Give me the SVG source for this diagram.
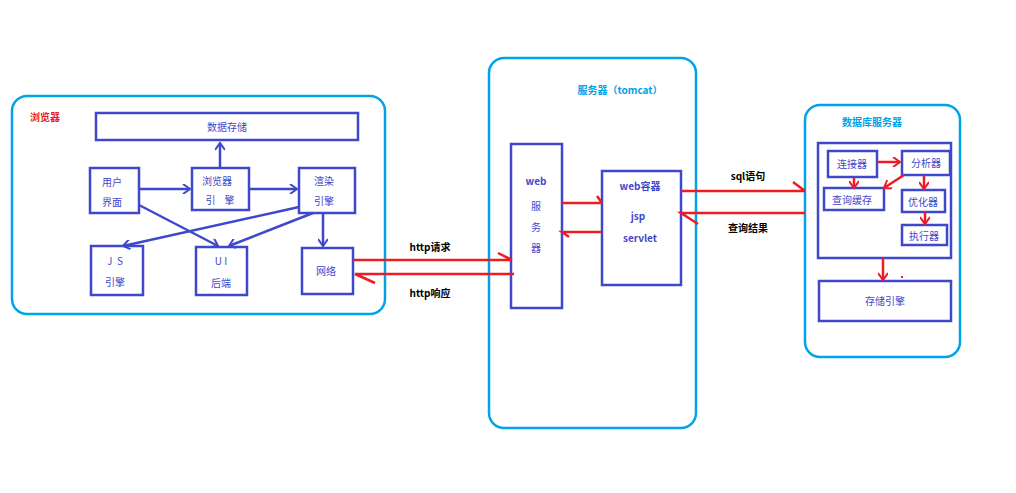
<svg xmlns="http://www.w3.org/2000/svg" width="1016" height="493" viewBox="0 0 1016 493">
<style>
text{font-family:"Noto Sans CJK SC","Liberation Sans",sans-serif;font-size:10px;text-anchor:middle;}
.c{fill:none;stroke:#00a2e8;stroke-width:2.5}
.b{fill:#fff;stroke:#3f48cc;stroke-width:2.5}
.t{fill:#3f48cc}
.bl{stroke:#3f48cc;stroke-width:2.5;fill:none}
.rd{stroke:#ed1c24;stroke-width:2.5;fill:none}
</style>
<defs>
<marker id="ab" markerWidth="10" markerHeight="10" refX="8" refY="5" orient="auto" markerUnits="userSpaceOnUse"><path d="M1,0 L8,5 L1,10" fill="none" stroke="#3f48cc" stroke-width="2"/></marker>
<marker id="ar" markerWidth="10" markerHeight="10" refX="8" refY="5" orient="auto" markerUnits="userSpaceOnUse"><path d="M1,0 L8,5 L1,10" fill="none" stroke="#ed1c24" stroke-width="2"/></marker>
</defs>
<rect width="1016" height="493" fill="#fff"/>
<g id="browser"><rect class="c" x="12" y="96" width="373" height="218" rx="15"/><text x="45" y="121" fill="#ed1c24" font-weight="bold">浏览器</text></g>
<g id="storage"><rect class="b" x="96" y="113" width="262" height="27"/><text class="t" x="227" y="131">数据存储</text></g>
<g id="ui"><rect class="b" x="90" y="168" width="49" height="45"/><text class="t" x="112" y="186">用户</text><text class="t" x="112" y="206">界面</text></g>
<g id="bengine"><rect class="b" x="192" y="168" width="57" height="42"/><text class="t" x="217" y="185">浏览器</text><text class="t" x="220" y="204" xml:space="preserve">引    擎</text></g>
<g id="render"><rect class="b" x="299" y="168" width="56" height="45"/><text class="t" x="324" y="185">渲染</text><text class="t" x="324" y="205">引擎</text></g>
<g id="js"><rect class="b" x="91" y="246" width="52" height="49"/><text class="t" x="115" y="265" xml:space="preserve">J  S</text><text class="t" x="115" y="286">引擎</text></g>
<g id="uib"><rect class="b" x="196" y="247" width="51" height="48"/><text class="t" x="221" y="265" xml:space="preserve">U I</text><text class="t" x="221" y="287">后端</text></g>
<g id="net"><rect class="b" x="302" y="248" width="51" height="46"/><text class="t" x="326" y="275">网络</text></g>
<g id="server"><rect class="c" x="489" y="58" width="207" height="370" rx="15"/><text x="620" y="94" fill="#00a2e8" font-weight="bold">服务器（tomcat）</text></g>
<g id="websrv"><rect class="b" x="511" y="144" width="51" height="164"/><text class="t" x="536" y="185" font-weight="bold">web</text><text class="t" x="536" y="210">服</text><text class="t" x="536" y="231">务</text><text class="t" x="536" y="252">器</text></g>
<g id="webc"><rect class="b" x="602" y="171" width="79" height="114"/><text class="t" x="640" y="190" font-weight="bold">web容器</text><text class="t" x="638" y="220" font-weight="bold">jsp</text><text class="t" x="640" y="242" font-weight="bold">servlet</text></g>
<g id="db"><rect class="c" x="805" y="105" width="155" height="252" rx="15"/><text x="872" y="126" fill="#00a2e8" font-weight="bold">数据库服务器</text></g>
<g id="inner"><rect class="b" x="818" y="143" width="133" height="115"/></g>
<g id="conn"><rect class="b" x="828" y="151" width="49" height="26"/><text class="t" x="852" y="168">连接器</text></g>
<g id="anal"><rect class="b" x="902" y="151" width="48" height="24"/><text class="t" x="926" y="167">分析器</text></g>
<g id="cache"><rect class="b" x="824" y="188" width="60" height="22"/><text class="t" x="852" y="204">查询缓存</text></g>
<g id="opt"><rect class="b" x="902" y="190" width="43" height="22"/><text class="t" x="923" y="206">优化器</text></g>
<g id="exec"><rect class="b" x="902" y="225" width="45" height="20"/><text class="t" x="924" y="240">执行器</text></g>
<g id="se"><rect class="b" x="819" y="281" width="132" height="40"/><text class="t" x="885" y="305">存储引擎</text></g>
<g id="connectors">
<path class="bl" d="M139,189 H190" marker-end="url(#ab)"/>
<path class="bl" d="M249,189 H297" marker-end="url(#ab)"/>
<path class="bl" d="M220,168 V143" marker-end="url(#ab)"/>
<path class="bl" d="M139,205 L218,246" marker-end="url(#ab)"/>
<path class="bl" d="M299,207 L123,246" marker-end="url(#ab)"/>
<path class="bl" d="M313,213 L229,246" marker-end="url(#ab)"/>
<path class="bl" d="M323,213 V246" marker-end="url(#ab)"/>
<path class="rd" d="M353,260 H512 M498,253 L512,260"/>
<path class="rd" d="M514,274 H355 L375,283"/>
<path class="rd" d="M562,203 H602 M597,196 L602,203"/>
<path class="rd" d="M602,232 H562 L569,237"/>
<path class="rd" d="M681,191 H805 M793,182 L805,191"/>
<path class="rd" d="M805,213 H681 L698,224"/>
<path class="rd" d="M877,162 H900" marker-end="url(#ar)"/>
<path class="rd" d="M854,177 V188" marker-end="url(#ar)"/>
<path class="rd" d="M904,175 L884,188" marker-end="url(#ar)"/>
<path class="rd" d="M924,175 V189" marker-end="url(#ar)"/>
<path class="rd" d="M925,212 V224" marker-end="url(#ar)"/>
<path class="rd" d="M883,258 V280" marker-end="url(#ar)"/>
<rect x="901" y="276" width="2" height="2" fill="#ed1c24"/>
</g>
<g font-weight="bold">
<text x="430" y="251">http请求</text><text x="430" y="297">http响应</text>
<text x="748" y="180">sql语句</text><text x="748" y="232">查询结果</text>
</g>
</svg>
